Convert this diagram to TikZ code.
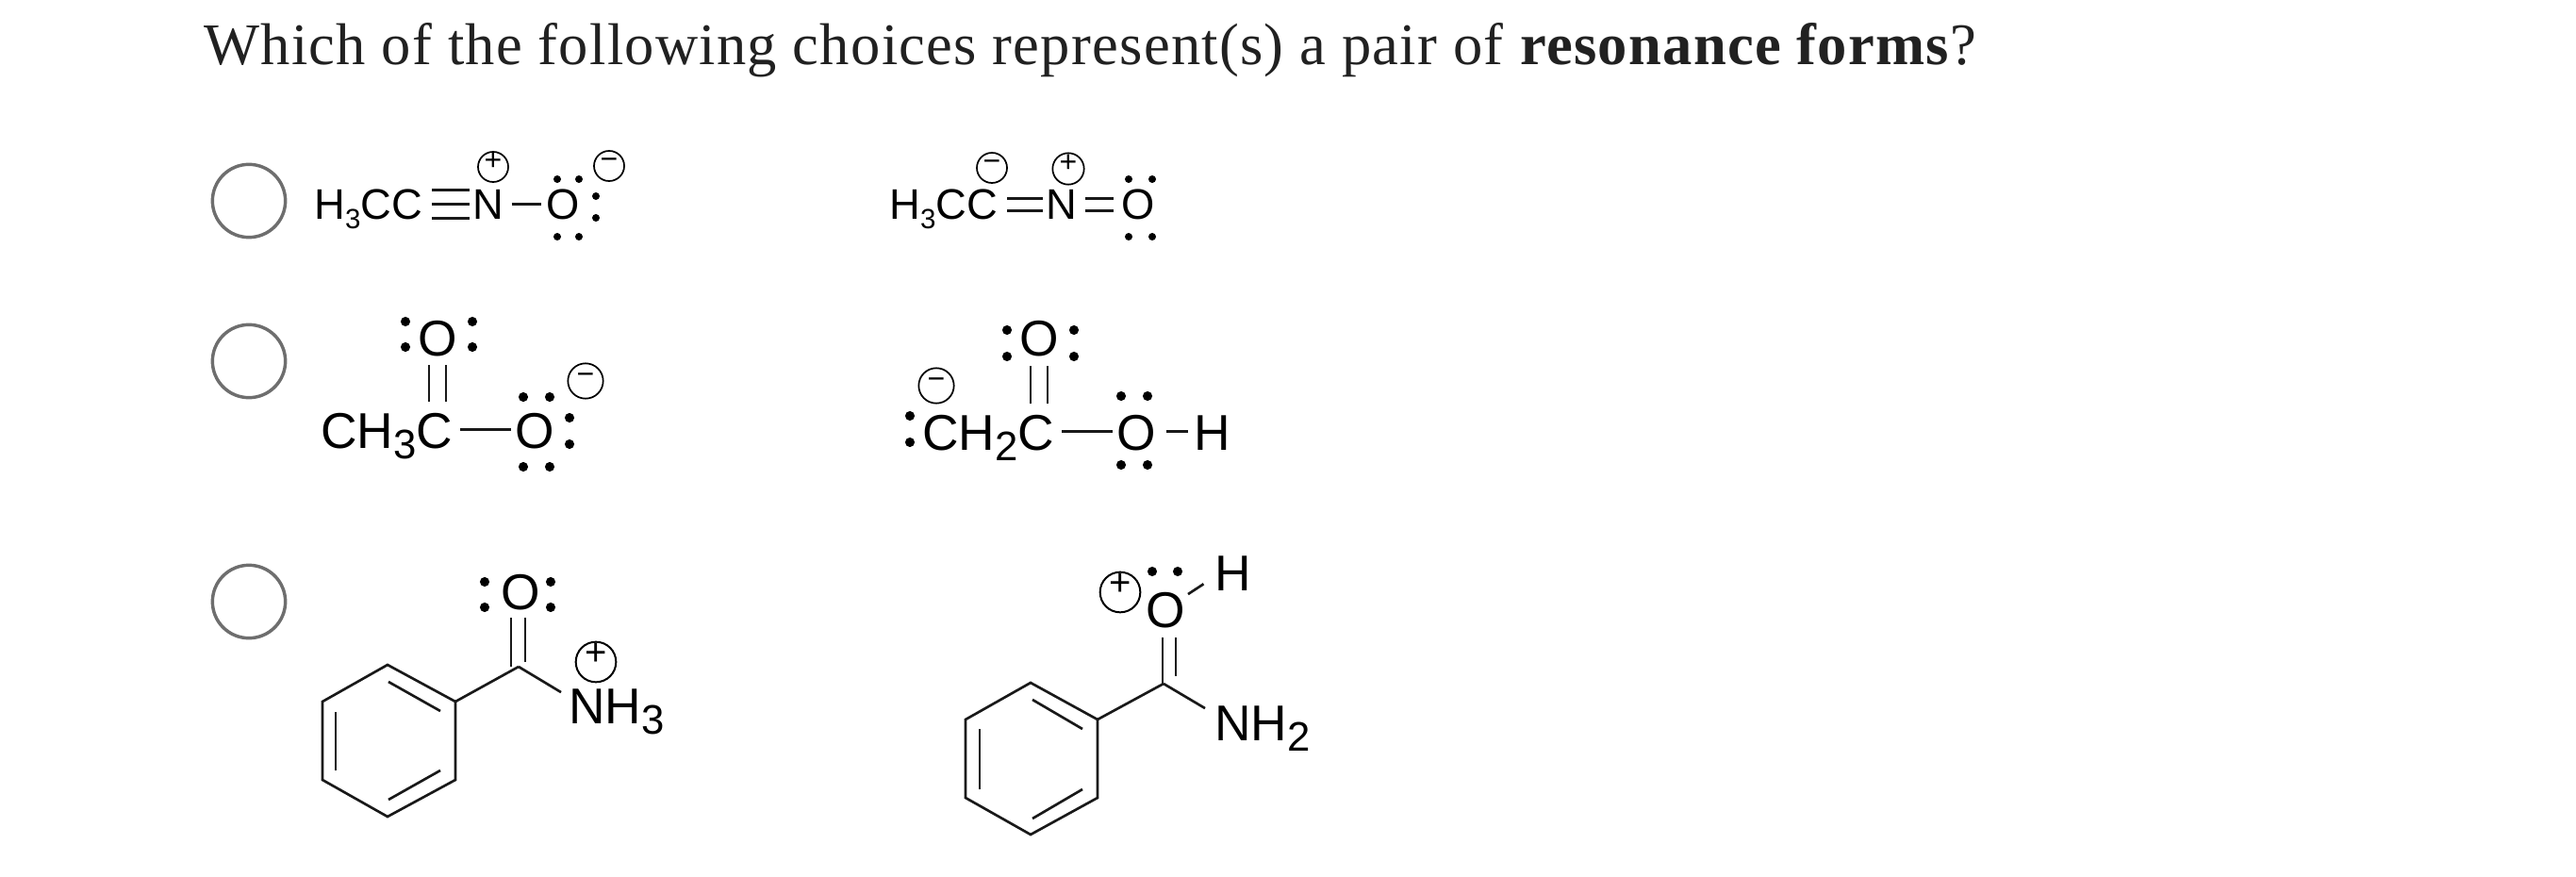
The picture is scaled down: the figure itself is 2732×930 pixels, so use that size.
\documentclass[tikz,border=0pt]{standalone}
\usepackage{fontspec}
\setmainfont{Liberation Serif}[LetterSpace=2.0]
\newfontfamily\atomfont{Liberation Sans}
\newcommand{\atomsub}[2][.82]{\raisebox{-.22em}{\scalebox{#1}{#2}}}
\tikzset{
  radio/.style={circle, draw=black!57, line width=2.6pt, minimum size=58pt, inner sep=0pt},
  atomA/.style={font=\atomfont\fontsize{34}{34}\selectfont, inner sep=0pt, text height=25pt, text depth=0pt, anchor=base},
  atomB/.style={font=\atomfont\fontsize{40}{40}\selectfont, inner sep=0pt, text height=29pt, text depth=0pt, anchor=base},
  chg/.style={circle, draw, line width=1.3pt, minimum size=#1, inner sep=0pt, text height=.58em, text depth=0pt, font=\atomfont\fontsize{24}{24}\selectfont},
  chgbig/.style={chg=32pt, line width=1.5pt, font=\atomfont\fontsize{30}{30}\selectfont},
  bond/.style={line width=2pt, black!90},
}
\begin{document}
\begin{tikzpicture}[x=0.75pt, y=-0.75pt]
  \useasboundingbox (0,0) rectangle (2732,930);
  \node[anchor=base west, inner sep=0pt, text=black!87, font=\fontsize{46.9}{46.9}\selectfont] (title) at (216,69) {Which of the following choices represent(s) a pair of \textbf{resonance forms}?};

  % first pair
  \node[radio] (optA) at (264,213) {};
  \node[atomA, anchor=base west] (aC) at (333,233) {H\atomsub[.65]{3}CC};
  \node[atomA] (aN) at (518,233) {N};
  \node[atomA] (aO) at (597,233) {O};
  \foreach \s in {-15,0,15}
    \draw[bond] ([shift={(10,\s)}]aC.east) -- ([shift={(-3,\s)}]aN.west);
  \draw[bond] ([xshift=6pt]aN.east) -- ([xshift=-4pt]aO.west);
  \node[chg=24pt] (aPlus) at (523,177) {+};
  \node[chg=24pt] (aMinus) at (646,176) {−};
  \foreach \x/\y in {591/190,614/190,632/208,632/231,591/251,614/251}
    \fill (\x,\y) circle (3pt);

  \node[atomA, anchor=base west] (bC) at (943,233) {H\atomsub[.65]{3}CC};
  \node[atomA] (bN) at (1126,233) {N};
  \node[atomA] (bO) at (1207,233) {O};
  \foreach \s in {-6,7} {
    \draw[bond] ([shift={(10,\s)}]bC.east) -- ([shift={(-3,\s)}]bN.west);
    \draw[bond] ([shift={(8,\s)}]bN.east) -- ([shift={(-8,\s)}]bO.west);
  }
  \node[chg=24pt] (bMinus) at (1052,178) {−};
  \node[chg=25pt] (bPlus) at (1133,179) {+};
  \foreach \x/\y in {1197/190,1222/190,1197/251,1222/251}
    \fill (\x,\y) circle (3pt);

  % second pair
  \node[radio] (optB) at (264,383) {};
  \node[atomB] (cTop) at (464,377) {O};
  \node[atomB, anchor=base west] (cC) at (340,475) {CH\atomsub{3}C};
  \node[atomB] (cO) at (567,475) {O};
  \foreach \s in {-9,9}
    \draw[bond] ([shift={(\s,10)}]cTop.south) -- ([shift={(\s,-10)}]cTop.south |- cC.north);
  \draw[bond] ([xshift=6pt]cC.east) -- ([xshift=-3pt]cO.west);
  \node[chg=28pt] (cMinus) at (621,404) {−};
  \foreach \x/\y in {430/341,430/368,501/341,501/368,555/421,583/421,604/443,604/471,555/495,583/495}
    \fill (\x,\y) circle (3.8pt);

  \node[atomB] (dTop) at (1102,378) {O};
  \node[atomB, anchor=base west] (dC) at (978,477) {CH\atomsub{2}C};
  \node[atomB] (dO) at (1205,477) {O};
  \node[atomB] (dH) at (1286,477) {H};
  \foreach \s in {-9,9}
    \draw[bond] ([shift={(\s,10)}]dTop.south) -- ([shift={(\s,-10)}]dTop.south |- dC.north);
  \draw[bond] ([xshift=6pt]dC.east) -- ([xshift=-3pt]dO.west);
  \draw[bond] ([xshift=8pt]dO.east) -- ([xshift=-5pt]dH.west);
  \node[chg=28pt] (dMinus) at (993,409) {−};
  \foreach \x/\y in {1068/350,1068/378,1139/350,1139/378,1189/420,1217/420,1189/493,1217/493,965/441,965/469}
    \fill (\x,\y) circle (3.8pt);

  % third pair
  \node[radio] (optC) at (264,638) {};
  \node[atomB] (eTop) at (552,646) {O};
  \node[atomB, anchor=base west] (eN) at (603,767) {NH\atomsub{3}};
  \coordinate (e1) at (411,705);
  \coordinate (e2) at (483,744);
  \coordinate (e3) at (483,827);
  \coordinate (e4) at (411,866);
  \coordinate (e5) at (342,827);
  \coordinate (e6) at (342,744);
  \coordinate (eC) at (550,707);
  \draw[bond] (e1) -- (e2) -- (e3) -- (e4) -- (e5) -- (e6) -- cycle;
  \draw[bond] (412,723) -- (467,754);
  \draw[bond] (356,755) -- (356,817);
  \draw[bond] (467,817) -- (412,848);
  \draw[bond] (e2) -- (eC);
  \draw[bond] (eC) -- ([shift={(-8,6)}]eN.north west);
  \draw[bond] ([shift={(-10,9)}]eTop.south) -- ([shift={(-8,0)}]eC);
  \draw[bond] ([shift={(5,9)}]eTop.south) -- ([shift={(7,-5)}]eC);
  \node[chgbig] (ePlus) at (632,702) {+};
  \foreach \x/\y in {514/617,514/644,584/617,584/644}
    \fill (\x,\y) circle (3.8pt);

  \node[atomB] (fO) at (1236,665) {O};
  \node[atomB] (fH) at (1308,626) {H};
  \node[atomB, anchor=base west] (fN) at (1288,785) {NH\atomsub{2}};
  \coordinate (f1) at (1093,724);
  \coordinate (f2) at (1164,763);
  \coordinate (f3) at (1164,846);
  \coordinate (f4) at (1093,885);
  \coordinate (f5) at (1024,846);
  \coordinate (f6) at (1024,763);
  \coordinate (fC) at (1234,725);
  \draw[bond] (f1) -- (f2) -- (f3) -- (f4) -- (f5) -- (f6) -- cycle;
  \draw[bond] (1095,742) -- (1148,773);
  \draw[bond] (1039,773) -- (1039,837);
  \draw[bond] (1148,837) -- (1095,868);
  \draw[bond] (f2) -- (fC);
  \draw[bond] (fC) -- ([shift={(-10,5)}]fN.north west);
  \draw[bond] ([shift={(-3,11)}]fO.south) -- ([shift={(-1,0)}]fC);
  \draw[bond] ([shift={(11,11)}]fO.south) -- ([shift={(13,-8)}]fC);
  \draw[bond] ([shift={(3,4)}]fO.north east) -- ([shift={(-12,-7)}]fH.south west);
  \node[chgbig] (fPlus) at (1188,628) {+};
  \foreach \x/\y in {1222/606,1249/606}
    \fill (\x,\y) circle (3.8pt);
\end{tikzpicture}
\end{document}
